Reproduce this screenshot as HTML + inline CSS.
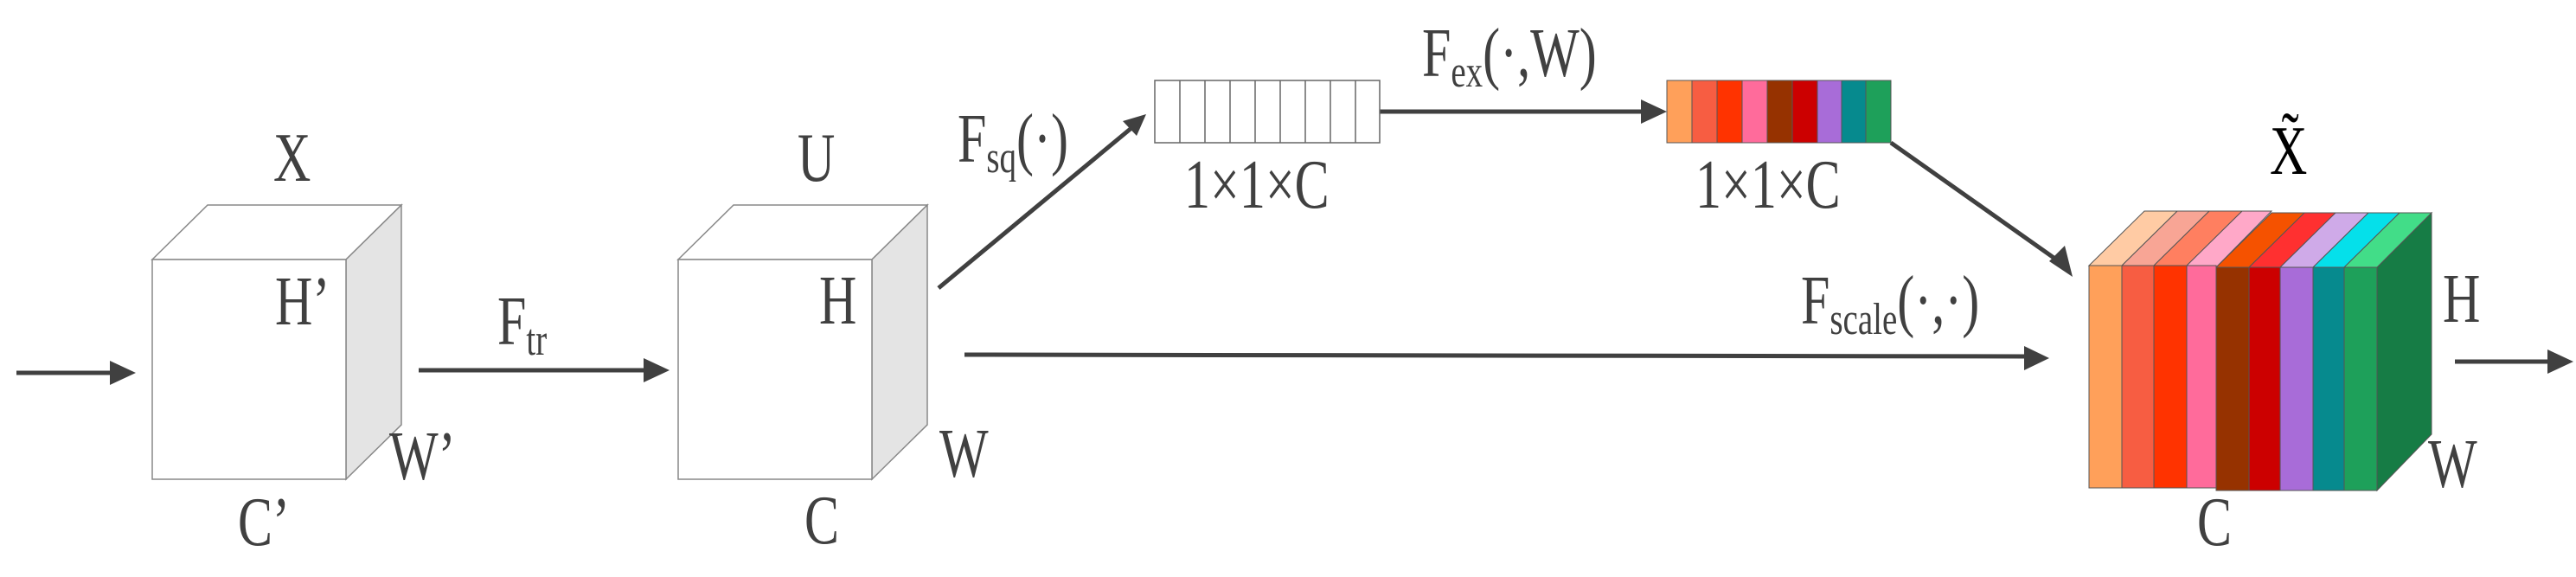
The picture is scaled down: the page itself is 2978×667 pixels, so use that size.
<!DOCTYPE html>
<html><head><meta charset="utf-8"><style>
html,body{margin:0;padding:0;background:#fff;width:2978px;height:667px;overflow:hidden}
svg{display:block}
text{font-family:"Liberation Serif","DejaVu Serif","Times New Roman",serif;fill:#404040}
</style></head><body>
<svg width="2978" height="667" viewBox="0 0 2978 667" xmlns="http://www.w3.org/2000/svg">
<g stroke="#404040" stroke-width="5" fill="none">
<line x1="19" y1="431" x2="128" y2="431"/>
<line x1="484" y1="428" x2="745" y2="428"/>
<line x1="1085" y1="333" x2="1308" y2="148"/>
<line x1="1595" y1="129" x2="1898" y2="129"/>
<line x1="2186" y1="165" x2="2380" y2="302"/>
<line x1="1115" y1="410" x2="2340" y2="412"/>
<line x1="2838" y1="418" x2="2945" y2="418"/>
</g>
<g fill="#404040">
<polygon points="157,431 127,417 127,445"/>
<polygon points="774,428 744,414 744,442"/>
<polygon points="1325,132 1298,140 1314,157"/>
<polygon points="1927,129 1897,115 1897,143"/>
<polygon points="2396,320 2369,302 2387,284"/>
<polygon points="2369,414 2340,400 2340,428"/>
<polygon points="2975,418 2945,404 2945,432"/>
</g>
<g stroke="#888" stroke-width="1.5">
<polygon points="176,300 240,237 464,237 400,300" fill="#fff"/>
<polygon points="400,300 464,237 464,491 400,554" fill="#e4e4e4"/>
<rect x="176" y="300" width="224" height="254" fill="#fff"/>
<polygon points="784,300 848,237 1072,237 1008,300" fill="#fff"/>
<polygon points="1008,300 1072,237 1072,491 1008,554" fill="#e4e4e4"/>
<rect x="784" y="300" width="224" height="254" fill="#fff"/>
</g>
<g stroke="#666" stroke-width="1.5" fill="#fff">
<rect x="1335" y="93" width="260" height="72"/>
<line x1="1364" y1="93" x2="1364" y2="165"/><line x1="1393" y1="93" x2="1393" y2="165"/>
<line x1="1422" y1="93" x2="1422" y2="165"/><line x1="1451" y1="93" x2="1451" y2="165"/>
<line x1="1480" y1="93" x2="1480" y2="165"/><line x1="1509" y1="93" x2="1509" y2="165"/>
<line x1="1538" y1="93" x2="1538" y2="165"/><line x1="1567" y1="93" x2="1567" y2="165"/>
</g>
<g stroke="#555" stroke-width="1">
<rect x="1927" y="93" width="29" height="72" fill="#ffa05a"/>
<rect x="1956" y="93" width="29" height="72" fill="#f75d42"/>
<rect x="1985" y="93" width="29" height="72" fill="#ff3300"/>
<rect x="2014" y="93" width="29" height="72" fill="#ff6b9b"/>
<rect x="2043" y="93" width="29" height="72" fill="#963200"/>
<rect x="2072" y="93" width="29" height="72" fill="#cc0000"/>
<rect x="2101" y="93" width="28" height="72" fill="#a86cd8"/>
<rect x="2129" y="93" width="28" height="72" fill="#068a8e"/>
<rect x="2157" y="93" width="29" height="72" fill="#1ea05a"/>
</g>
<g stroke="#555" stroke-width="1">
<polygon points="2748,309 2811,246 2811,502 2748,567" fill="#167c45"/>
<polygon points="2415,307 2479,244 2517,244 2453,307" fill="#ffcba4"/>
<polygon points="2453,307 2517,244 2554,244 2490,307" fill="#f8a595"/>
<polygon points="2490,307 2554,244 2592,244 2528,307" fill="#ff7f60"/>
<polygon points="2528,307 2592,244 2626,244 2562,309" fill="#ffa8c8"/>
<polygon points="2562,309 2626,246 2664,246 2600,309" fill="#f55200"/>
<polygon points="2600,309 2664,246 2700,246 2636,309" fill="#ff3030"/>
<polygon points="2636,309 2700,246 2738,246 2674,309" fill="#cfaae8"/>
<polygon points="2674,309 2738,246 2774,246 2710,309" fill="#05e0ea"/>
<polygon points="2710,309 2774,246 2811,246 2748,309" fill="#42dd88"/>
<rect x="2415" y="307" width="38" height="257" fill="#ffa05a"/>
<rect x="2453" y="307" width="37" height="257" fill="#f75d42"/>
<rect x="2490" y="307" width="38" height="257" fill="#ff3300"/>
<rect x="2528" y="307" width="34" height="257" fill="#ff6b9b"/>
<rect x="2562" y="309" width="38" height="258" fill="#963200"/>
<rect x="2600" y="309" width="36" height="258" fill="#cc0000"/>
<rect x="2636" y="309" width="38" height="258" fill="#a86cd8"/>
<rect x="2674" y="309" width="36" height="258" fill="#068a8e"/>
<rect x="2710" y="309" width="38" height="258" fill="#1ea05a"/>
</g>
<g font-size="80" font-family="Liberation Serif, DejaVu Serif, serif">
<text transform="translate(316,209) scale(0.75,1)">X</text>
<text transform="translate(318,375) scale(0.75,1)">H’</text>
<text transform="translate(450,554) scale(0.75,1)">W’</text>
<text transform="translate(275,630) scale(0.75,1)">C’</text>
<text transform="translate(575,398) scale(0.75,1)">F<tspan font-size="52" dy="12">tr</tspan></text>
<text transform="translate(922,209) scale(0.75,1)">U</text>
<text transform="translate(947,374) scale(0.75,1)">H</text>
<text transform="translate(1086,551) scale(0.75,1)">W</text>
<text transform="translate(930,628) scale(0.75,1)">C</text>
<text transform="translate(1107,187) scale(0.75,1)">F<tspan font-size="52" dy="12">sq</tspan><tspan dy="-12">(·)</tspan></text>
<text transform="translate(1369,240) scale(0.75,1)">1×1×C</text>
<text transform="translate(1644,88) scale(0.75,1)">F<tspan font-size="52" dy="12">ex</tspan><tspan dy="-12">(·,W)</tspan></text>
<text transform="translate(1960,240) scale(0.75,1)">1×1×C</text>
<text transform="translate(2082,374) scale(0.75,1)">F<tspan font-size="52" dy="12">scale</tspan><tspan dy="-12">(·,·)</tspan></text>
<text transform="translate(2624,201) scale(0.75,1)" style="fill:#000">X̃</text>
<text transform="translate(2824,372) scale(0.75,1)">H</text>
<text transform="translate(2807,563) scale(0.75,1)">W</text>
<text transform="translate(2540,630) scale(0.75,1)">C</text>
</g>
</svg>
</body></html>
